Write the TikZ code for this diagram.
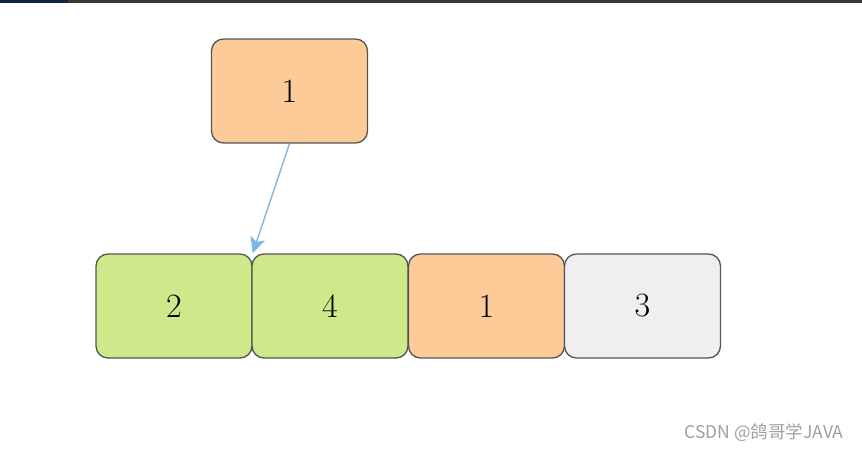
\documentclass[tikz,border=0pt]{standalone}
\usepackage{fontspec}
\newfontfamily\cjk{Noto Sans CJK SC}
\usetikzlibrary{arrows.meta}
\definecolor{boxorange}{HTML}{FDCB98}
\definecolor{boxgreen}{HTML}{CDE98A}
\definecolor{boxgray}{HTML}{EFEEF0}
\definecolor{boxline}{HTML}{555555}
\definecolor{arrowblue}{HTML}{7DB8EA}
\definecolor{barback}{HTML}{383838}
\definecolor{barnavy}{HTML}{0E2444}
\tikzset{
  cell/.style={draw=boxline, line width=1.3pt, rounded corners=12pt, minimum width=156pt, minimum height=104pt, inner sep=0pt, font=\fontsize{34}{34}\selectfont},
  link/.style={draw=arrowblue, line width=1.4pt, -{Stealth[length=16pt,width=15pt,inset=4pt]}},
}
\begin{document}
\begin{tikzpicture}[x=1pt,y=-1pt]
\useasboundingbox (0,0) rectangle (862,452);
\fill[barback] (0,0) rectangle (862,3);
\fill[barnavy] (0,0) rectangle (68,3);
\node[cell, fill=boxorange] (top) at (289.5,91) {1};
\node[cell, fill=boxgreen] (b1) at (174,306) {2};
\node[cell, fill=boxgreen] (b2) at (330,306) {4};
\node[cell, fill=boxorange] (b3) at (486.5,306) {1};
\node[cell, fill=boxgray] (b4) at (642.5,306) {3};
\draw[link] (top.south) -- (b1.north east);
\node[text=gray!75, font=\cjk\fontsize{17.5}{17.5}\selectfont, anchor=east] (wm) at (847,433) {CSDN @鸽哥学JAVA};
\end{tikzpicture}
\end{document}
